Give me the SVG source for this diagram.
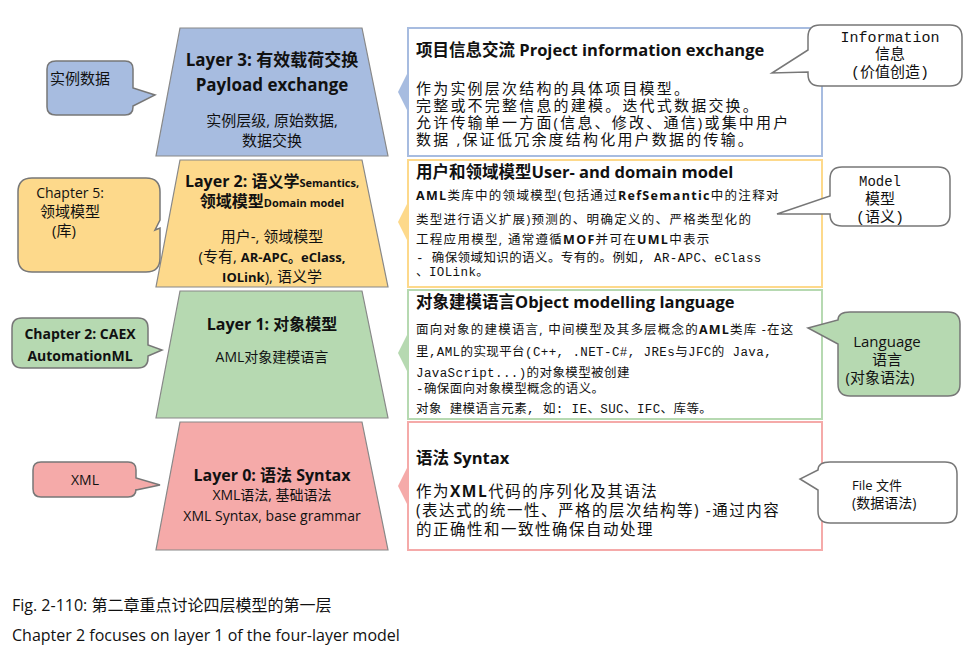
<svg xmlns="http://www.w3.org/2000/svg" width="963" height="654" viewBox="0 0 963 654">
<style>
text{font-family:"Open Sans","Noto Sans CJK SC",sans-serif;fill:#111}
.b{font-weight:bold}
.m{font-family:"Liberation Mono","Noto Sans CJK SC",monospace}
.t{stroke:#888;stroke-width:1.2}
.c{stroke:#777;stroke-width:1.5}
.bl{fill:#a7bce0}.ye{fill:#fdd98b}.gr{fill:#b6d9b1}.pk{fill:#f5aaa9}
.box{fill:#fff;stroke-width:2}
</style>
<rect width="963" height="654" fill="#fff"/>
<g id="layer3"><path class="t bl" d="M180 28H362L388 156H156Z"/>
<text x="272" y="66" text-anchor="middle" font-size="17" class="b">Layer 3: 有效载荷交换</text>
<text x="272" y="91" text-anchor="middle" font-size="17" class="b">Payload exchange</text>
<text x="272" y="126" text-anchor="middle" font-size="15">实例层级, 原始数据,</text>
<text x="272" y="146" text-anchor="middle" font-size="15">数据交换</text></g>
<g id="layer2"><path class="t ye" d="M180 160H362L388 287H156Z"/>
<text x="272" y="187" text-anchor="middle" font-size="16" class="b">Layer 2: 语义学<tspan font-size="11">Semantics,</tspan></text>
<text x="272" y="207" text-anchor="middle" font-size="16" class="b">领域模型<tspan font-size="11">Domain model</tspan></text>
<text x="272" y="242" text-anchor="middle" font-size="15">用户-, 领域模型</text>
<text x="272" y="262" text-anchor="middle" font-size="15">(专有, <tspan class="b" font-size="13">AR-APC。eClass,</tspan></text>
<text x="272" y="282" text-anchor="middle" font-size="15"><tspan class="b" font-size="13">IOLink</tspan>), 语义学</text></g>
<g id="layer1"><path class="t gr" d="M180 291H362L388 418H156Z"/>
<text x="272" y="330" text-anchor="middle" font-size="16" class="b">Layer 1: 对象模型</text>
<text x="272" y="362" text-anchor="middle" font-size="14">AML对象建模语言</text></g>
<g id="layer0"><path class="t pk" d="M180 422H362L388 550H156Z"/>
<text x="272" y="481" text-anchor="middle" font-size="16" class="b">Layer 0: 语法  Syntax</text>
<text x="272" y="500" text-anchor="middle" font-size="14">XML语法, 基础语法</text>
<text x="272" y="521" text-anchor="middle" font-size="14">XML Syntax, base grammar</text></g>

<g id="box3"><path class="bl" d="M398 92L408 72V112Z"/><rect class="box" x="408" y="28" width="414" height="128" stroke="#a7bce0"/>
<text x="416" y="56" font-size="16.5" class="b">项目信息交流  Project information exchange</text>
<text font-size="15" letter-spacing="2.2" fill="#222"><tspan x="416" y="94">作为实例层次结构的具体项目模型。</tspan><tspan x="416" y="111">完整或不完整信息的建模。迭代式数据交换。</tspan><tspan x="416" y="128">允许传输单一方面(信息、修改、通信)或集中用户</tspan><tspan x="416" y="145">数据 ,保证低冗余度结构化用户数据的传输。</tspan></text></g>
<g id="box2"><path class="ye" d="M398 222L408 202V242Z"/><rect class="box" x="408" y="160" width="414" height="127" stroke="#fdd98b"/>
<text x="416" y="178" font-size="16.5" class="b">用户和领域模型User- and domain model</text>
<text font-size="12.5" letter-spacing="1.3" fill="#222"><tspan x="416" y="200"><tspan class="b">AML</tspan>类库中的领域模型(包括通过<tspan class="b">RefSemantic</tspan>中的注释对</tspan><tspan x="416" y="224">类型进行语义扩展)预测的、明确定义的、严格类型化的</tspan><tspan x="416" y="244">工程应用模型, 通常遵循<tspan class="b">MOF</tspan>并可在<tspan class="b">UML</tspan>中表示</tspan></text>
<text class="m" font-size="12.5" letter-spacing="0.4"><tspan x="416" y="262">-  确保领域知识的语义。专有的。例如, AR-APC、eClass</tspan><tspan x="416" y="276">、IOLink。</tspan></text></g>
<g id="box1"><path class="gr" d="M398 353L408 333V373Z"/><rect class="box" x="408" y="290" width="414" height="129" stroke="#b6d9b1"/>
<text x="416" y="308" font-size="16.5" class="b">对象建模语言Object modelling language</text>
<text font-size="12.5" letter-spacing="1.2" fill="#222"><tspan x="416" y="334">面向对象的建模语言, 中间模型及其多层概念的<tspan class="b">AML</tspan>类库  -在这</tspan></text>
<text class="m" font-size="12.5" letter-spacing="0.4"><tspan x="416" y="356">里,AML的实现平台(C++, .NET-C#, JREs与JFC的  Java,</tspan><tspan x="416" y="377">JavaScript...)的对象模型被创建</tspan><tspan x="416" y="393">-确保面向对象模型概念的语义。</tspan><tspan x="416" y="413">对象  建模语言元素, 如: IE、SUC、IFC、库等。</tspan></text></g>
<g id="box0"><path class="pk" d="M398 486L408 466V506Z"/><rect class="box" x="408" y="422" width="414" height="128" stroke="#f5aaa9"/>
<text x="416" y="464" font-size="16.5" class="b">语法  Syntax</text>
<text font-size="15.5" letter-spacing="1.5" fill="#222"><tspan x="416" y="497">作为<tspan class="b">XML</tspan>代码的序列化及其语法</tspan><tspan x="416" y="516">(表达式的统一性、严格的层次结构等) -通过内容</tspan><tspan x="416" y="535">的正确性和一致性确保自动处理</tspan></text></g>

<g id="callouts">
<path class="c bl" d="M56 61H125Q133 61 133 69V88L155 95L133 106V107Q133 115 125 115H56Q47 115 47 107V69Q47 61 56 61Z"/>
<text x="50" y="84" font-size="15">实例数据</text>
<path class="c ye" d="M32 178H146Q160 178 160 192V220L155 230L160 228V258Q160 272 146 272H32Q18 272 18 258V192Q18 178 32 178Z"/>
<text x="70" y="198" text-anchor="middle" font-size="14">Chapter 5:</text>
<text x="70" y="217" text-anchor="middle" font-size="15">领域模型</text>
<text x="64" y="236" text-anchor="middle" font-size="15">(库)</text>
<path class="c gr" d="M22 318H138Q148 318 148 328V345L162 350L148 356V358Q148 368 138 368H22Q12 368 12 358V328Q12 318 22 318Z"/>
<text x="80" y="339" text-anchor="middle" font-size="14" class="b">Chapter 2: CAEX</text>
<text x="80" y="361" text-anchor="middle" font-size="14" class="b">AutomationML</text>
<path class="c pk" d="M41 462H128Q136 462 136 470V478L160 485L136 490V489Q136 497 128 497H41Q33 497 33 489V470Q33 462 41 462Z"/>
<text x="85" y="485" text-anchor="middle" font-size="14">XML</text>
<path class="c" fill="#fff" d="M820 25H950Q962 25 962 37V74Q962 86 950 86H820Q808 86 808 74V72L772 73L808 50V37Q808 25 820 25Z"/>
<text class="m" x="890" y="42" text-anchor="middle" font-size="15">Information</text>
<text class="m" x="890" y="59" text-anchor="middle" font-size="15">信息</text>
<text class="m" x="890" y="77" text-anchor="middle" font-size="15">(价值创造)</text>
<path class="c" fill="#fff" d="M842 167H938Q950 167 950 179V214Q950 226 938 226H842Q830 226 830 214V214L777 214L830 196V179Q830 167 842 167Z"/>
<text class="m" x="880" y="186" text-anchor="middle" font-size="14">Model</text>
<text class="m" x="880" y="204" text-anchor="middle" font-size="15">模型</text>
<text class="m" x="880" y="222" text-anchor="middle" font-size="15">(语义)</text>
<path class="c gr" d="M850 312H948Q960 312 960 324V384Q960 396 948 396H850Q838 396 838 384V344L808 328L838 320Q838 312 850 312Z"/>
<text x="887" y="347" text-anchor="middle" font-size="15" font-family="Liberation Serif,Noto Sans CJK SC,serif">Language</text>
<text x="887" y="365" text-anchor="middle" font-size="15">语言</text>
<text x="880" y="383" text-anchor="middle" font-size="15">(对象语法)</text>
<path class="c" fill="#fff" d="M830 462H945Q957 462 957 474V511Q957 523 945 523H830Q818 523 818 511V490L800 479L818 470Q818 462 830 462Z"/>
<text x="852" y="490" font-size="13">File 文件</text>
<text x="852" y="508" font-size="14">(数据语法)</text>
</g>
<text x="12" y="611" font-size="16" fill="#333">Fig. 2-110: 第二章重点讨论四层模型的第一层</text>
<text x="12" y="641" font-size="16" fill="#333">Chapter 2 focuses on layer 1 of the four-layer model</text>
</svg>
